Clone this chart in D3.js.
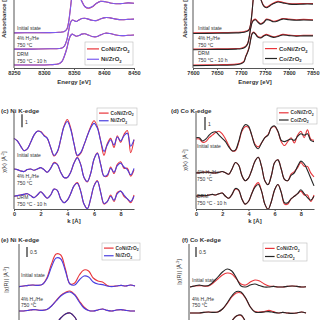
<!DOCTYPE html>
<html lang="en">
<head>
<meta charset="utf-8">
<title>Ni / Co K-edge XAS</title>
<script src="https://cdn.jsdelivr.net/npm/d3@7"></script>
<style>
  html, body { margin: 0; padding: 0; background: white; }
  text { font-family: "Liberation Sans", Arial, sans-serif; }
</style>
</head>
<body>
<script>
// ---------- data ----------
// (a) Ni K-edge XANES
var niEnergy = [8250, 8280, 8310, 8325, 8330, 8334, 8338, 8341, 8344, 8347, 8350, 8354, 8358, 8363, 8368, 8374, 8380, 8387, 8394, 8402, 8410, 8420, 8430, 8440, 8450];
var niInitCoNi = [0, 0.005, 0.01, 0.02, 0.03, 0.05, 0.12, 0.36, 0.82, 1.32, 1.58, 1.57, 1.32, 1.06, 0.88, 0.82, 0.86, 0.98, 1.05, 1.04, 1.0, 0.97, 0.98, 1.0, 0.99];
var niInitNi   = [0, 0.005, 0.01, 0.02, 0.03, 0.05, 0.12, 0.35, 0.80, 1.30, 1.55, 1.55, 1.30, 1.05, 0.88, 0.83, 0.87, 0.98, 1.05, 1.04, 1.0, 0.97, 0.98, 1.0, 0.99];
var niRedCoNi  = [0, 0, 0.01, 0.02, 0.04, 0.10, 0.30, 0.60, 0.88, 0.97, 0.95, 0.92, 0.97, 1.02, 1.03, 1.0, 0.96, 0.95, 1.0, 1.05, 1.04, 1.0, 0.98, 0.99, 1.0];
var niRedNi    = [0, 0, 0.01, 0.02, 0.04, 0.10, 0.30, 0.60, 0.88, 0.97, 0.95, 0.92, 0.97, 1.02, 1.03, 1.0, 0.96, 0.95, 1.0, 1.05, 1.04, 1.0, 0.98, 0.99, 1.0];
var niDrmCoNi  = [0, 0, 0.01, 0.04, 0.12, 0.30, 0.55, 0.80, 0.97, 1.03, 1.0, 0.96, 0.98, 1.03, 1.04, 1.0, 0.95, 0.94, 1.0, 1.06, 1.05, 1.0, 0.98, 0.99, 1.0];
var niDrmNi    = [0, 0, 0.01, 0.04, 0.12, 0.30, 0.55, 0.80, 0.97, 1.03, 1.0, 0.96, 0.98, 1.03, 1.04, 1.0, 0.95, 0.94, 1.0, 1.06, 1.05, 1.0, 0.98, 0.99, 1.0];

// (b) Co K-edge XANES
var coEnergy = [7600, 7650, 7690, 7700, 7706, 7710, 7714, 7717, 7720, 7723, 7726, 7730, 7735, 7741, 7747, 7753, 7760, 7768, 7777, 7787, 7800, 7815, 7830, 7850];
var coInitCoNi = [0, 0.01, 0.02, 0.03, 0.04, 0.06, 0.08, 0.12, 0.30, 0.70, 1.20, 1.50, 1.45, 1.15, 0.92, 0.86, 0.92, 1.0, 1.05, 1.02, 0.98, 0.97, 0.98, 0.98];
var coInitCo   = [0, 0.01, 0.02, 0.03, 0.04, 0.06, 0.08, 0.12, 0.30, 0.70, 1.20, 1.50, 1.45, 1.15, 0.92, 0.86, 0.92, 1.0, 1.05, 1.02, 0.98, 0.97, 0.98, 0.98];
var coRedCoNi  = [0, 0.01, 0.02, 0.03, 0.06, 0.10, 0.20, 0.40, 0.70, 0.90, 0.97, 1.0, 0.92, 0.85, 0.90, 1.0, 0.98, 0.93, 0.96, 1.02, 1.0, 0.98, 0.99, 0.98];
var coRedCo    = [0, 0.01, 0.02, 0.03, 0.06, 0.10, 0.20, 0.40, 0.70, 0.90, 0.97, 1.0, 0.92, 0.85, 0.90, 1.0, 0.98, 0.93, 0.96, 1.02, 1.0, 0.98, 0.99, 0.98];
var coDrmCoNi  = [0, 0.01, 0.03, 0.06, 0.12, 0.30, 0.45, 0.60, 0.85, 1.05, 1.10, 1.05, 0.95, 0.92, 0.98, 1.02, 0.98, 0.94, 0.97, 1.02, 1.0, 0.98, 0.99, 0.99];
var coDrmCo    = [0, 0.01, 0.03, 0.06, 0.12, 0.30, 0.45, 0.60, 0.85, 1.05, 1.10, 1.05, 0.95, 0.92, 0.98, 1.02, 0.98, 0.94, 0.97, 1.02, 1.0, 0.98, 0.99, 0.99];

// (c), (d) EXAFS chi(k)
var kGrid = [0, 0.25, 0.5, 0.75, 1, 1.25, 1.5, 1.75, 2, 2.25, 2.5, 2.75, 3, 3.25, 3.5, 3.75, 4, 4.25, 4.5, 4.75, 5, 5.25, 5.5, 5.75, 6, 6.25, 6.5, 6.75, 7, 7.25, 7.5, 7.75, 8, 8.25, 8.5, 8.75, 9];
var kTicks = [0, 2, 4, 6, 8];

var niChiInitCoNi = [0.2, 0.0, -0.4, -0.75, -0.6, -0.1, 0.45, 0.75, 0.72, 0.45, 0.2, -0.5, -1.15, -0.85, 0.1, 1.15, 1.65, 1.0, -0.2, -1.15, -0.95, -0.3, 0.4, 1.1, 1.55, 1.1, 0.0, -1.1, -0.2, 0.2, -0.5, 0.4, -0.1, 0.5, 0.8, -0.9, 0.1];
var niChiInitNi   = [0.2, 0.0, -0.4, -0.75, -0.6, -0.1, 0.45, 0.75, 0.70, 0.40, 0.2, -0.5, -1.1, -0.8, 0.1, 1.1, 1.50, 0.9, -0.2, -1.1, -0.9, -0.3, 0.4, 1.0, 1.35, 1.0, 0.0, -0.8, -0.3, 0.1, -0.3, 0.3, 0.0, 0.4, 0.6, -0.4, 0.1];
var niChiRedCoNi  = [0.15, 0.1, 0.0, -0.05, 0.1, 0.15, 0.05, 0.15, 0.25, 0.1, -0.1, 0.2, 0.65, 0.5, -0.1, -0.5, -0.5, -0.1, 0.6, 1.05, 0.5, -0.5, -0.85, -0.2, 0.9, 1.4, 0.5, -0.4, -0.4, 0.3, -0.2, 0.5, 0.7, 0.2, 0.2, -0.4, 0.1];
var niChiRedNi    = [0.15, 0.1, 0.0, -0.05, 0.1, 0.15, 0.05, 0.15, 0.25, 0.1, -0.1, 0.2, 0.60, 0.5, -0.1, -0.5, -0.5, -0.1, 0.6, 1.00, 0.5, -0.5, -0.80, -0.2, 0.9, 1.35, 0.5, -0.4, -0.3, 0.2, -0.1, 0.4, 0.6, 0.3, 0.1, -0.3, 0.2];
var niChiDrmCoNi  = [0.0, 0.05, 0.1, 0.15, 0.2, 0.05, -0.1, 0.1, 0.35, 0.1, -0.15, 0.1, 0.55, 0.45, -0.2, -0.5, -0.3, 0.2, 0.8, 1.05, 0.4, -0.6, -0.95, -0.2, 0.8, 1.2, 0.3, -0.6, -0.4, 0.1, -0.4, 0.3, 0.4, 0.0, -0.2, -0.5, 0.1];
var niChiDrmNi    = [0.0, 0.05, 0.1, 0.15, 0.2, 0.05, -0.1, 0.1, 0.35, 0.1, -0.15, 0.1, 0.55, 0.45, -0.2, -0.5, -0.3, 0.2, 0.8, 1.00, 0.4, -0.6, -0.95, -0.2, 0.8, 1.15, 0.3, -0.55, -0.4, 0.0, -0.3, 0.2, 0.4, 0.1, -0.2, -0.4, 0.0];

var coChiInitCoNi = [0.0, 0.0, -0.25, -0.2, 0.1, 0.3, 0.5, 0.6, 0.4, 0.0, -0.5, -0.9, -0.9, -0.3, 0.6, 0.95, 0.9, 0.3, -0.4, -0.6, -0.3, 0.1, 0.35, 0.85, 0.95, 0.55, -0.2, -0.5, -0.2, 0.1, -0.3, 0.3, 0.6, 0.1, 0.7, 0.0, -0.1];
var coChiInitCo   = [0.1, 0.1, -0.15, 0.0, 0.3, 0.5, 0.55, 0.3, 0.05, -0.2, -0.6, -0.9, -0.85, -0.2, 0.7, 1.1, 1.0, 0.3, -0.5, -0.75, -0.3, 0.1, 0.3, 0.9, 1.0, 0.6, -0.1, -0.2, -0.1, 0.0, -0.1, 0.2, 0.4, 0.3, 0.4, -0.1, -0.2];
var coChiRedCoNi  = [0.0, 0.0, 0.05, 0.05, 0.05, 0.0, 0.0, 0.05, 0.1, 0.0, -0.1, 0.3, 0.8, 0.6, -0.2, -0.6, -0.4, 0.2, 0.9, 1.2, 0.5, -0.6, -0.9, -0.2, 0.8, 1.0, 0.3, -0.5, -0.6, -0.1, 0.1, 0.4, 0.8, 0.5, 0.5, 0.0, -0.3];
var coChiRedCo    = [0.0, 0.0, 0.05, 0.05, 0.05, 0.0, 0.0, 0.05, 0.1, 0.0, -0.1, 0.3, 0.8, 0.6, -0.2, -0.6, -0.4, 0.2, 0.9, 1.2, 0.5, -0.6, -0.9, -0.2, 0.8, 1.0, 0.3, -0.5, -0.6, -0.2, 0.0, 0.5, 0.9, 0.7, 0.2, -0.4, -1.0];
var coChiDrmCoNi  = [0.0, 0.05, 0.05, 0.05, 0.1, 0.15, 0.1, 0.2, 0.25, 0.0, -0.15, 0.15, 0.55, 0.45, -0.2, -0.6, -0.4, 0.2, 0.8, 1.05, 0.4, -0.6, -1.0, -0.4, 0.5, 0.9, 0.3, -0.6, -0.6, -0.2, 0.0, 0.2, 0.4, 0.1, 0.1, -0.4, 0.1];
var coChiDrmCo    = [0.0, 0.05, 0.05, 0.05, 0.1, 0.15, 0.1, 0.2, 0.25, 0.0, -0.15, 0.15, 0.60, 0.50, -0.2, -0.6, -0.4, 0.2, 0.7, 0.90, 0.4, -0.6, -1.0, -0.4, 0.5, 0.9, 0.3, -0.5, -0.5, -0.2, 0.0, 0.2, 0.5, 0.2, -0.1, -0.3, 0.0];

// (e), (f) Fourier transforms |chi(R)|
var rGrid = [0, 0.2, 0.4, 0.6, 0.8, 1.0, 1.2, 1.4, 1.6, 1.8, 2.0, 2.2, 2.4, 2.6, 2.8, 3.0, 3.2, 3.4, 3.6, 3.8, 4.0, 4.2, 4.4, 4.6, 4.8, 5.0];
var niFtInitCoNi = [0.02, 0.05, 0.08, 0.1, 0.08, 0.12, 0.45, 1.15, 1.65, 1.6, 0.9, 0.15, 0.2, 0.6, 0.85, 0.8, 0.45, 0.3, 0.25, 0.08, 0.03, 0.05, 0.08, 0.05, 0.1, 0.05];
var niFtInitNi   = [0.02, 0.05, 0.08, 0.1, 0.08, 0.12, 0.40, 1.00, 1.45, 1.4, 0.8, 0.15, 0.1, 0.35, 0.55, 0.5, 0.25, 0.15, 0.12, 0.05, 0.02, 0.05, 0.08, 0.05, 0.1, 0.05];
var niFtRedCoNi  = [0.05, 0.05, 0.08, 0.12, 0.1, 0.08, 0.12, 0.3, 0.57, 0.83, 0.98, 1.05, 0.88, 0.55, 0.25, 0.08, 0.05, 0.1, 0.15, 0.08, 0.05, 0.1, 0.12, 0.08, 0.05, 0.05];
var niFtRedNi    = [0.05, 0.05, 0.08, 0.12, 0.1, 0.08, 0.12, 0.3, 0.55, 0.80, 0.95, 1.00, 0.85, 0.50, 0.20, 0.08, 0.05, 0.1, 0.15, 0.08, 0.05, 0.1, 0.12, 0.08, 0.05, 0.05];
var niFtDrmCoNi  = [0.05, 0.05, 0.08, 0.12, 0.1, 0.1, 0.2, 0.4, 0.7, 1.0, 1.2, 1.25, 1.05, 0.6, 0.25, 0.1, 0.05, 0.1, 0.15, 0.08, 0.05, 0.1, 0.12, 0.08, 0.05, 0.05];
var niFtDrmNi    = [0.05, 0.05, 0.08, 0.12, 0.1, 0.1, 0.2, 0.4, 0.7, 1.0, 1.2, 1.25, 1.05, 0.6, 0.25, 0.1, 0.05, 0.1, 0.15, 0.08, 0.05, 0.1, 0.12, 0.08, 0.05, 0.05];

var coFtInitCoNi = [0.05, 0.1, 0.12, 0.1, 0.1, 0.25, 0.45, 0.65, 0.75, 0.7, 0.45, 0.2, 0.15, 0.3, 0.4, 0.35, 0.2, 0.1, 0.08, 0.05, 0.05, 0.08, 0.1, 0.08, 0.05, 0.06];
var coFtInitCo   = [0.05, 0.1, 0.15, 0.1, 0.12, 0.3, 0.55, 0.8, 0.95, 0.85, 0.5, 0.1, 0.05, 0.15, 0.2, 0.12, 0.05, 0.05, 0.08, 0.05, 0.05, 0.08, 0.1, 0.08, 0.05, 0.06];
var coFtRedCoNi  = [0.05, 0.05, 0.05, 0.08, 0.1, 0.08, 0.1, 0.25, 0.52, 0.85, 1.05, 1.05, 0.78, 0.35, 0.12, 0.1, 0.12, 0.18, 0.12, 0.05, 0.08, 0.05, 0.03, 0.05, 0.1, 0.05];
var coFtRedCo    = [0.05, 0.05, 0.05, 0.08, 0.1, 0.08, 0.1, 0.25, 0.55, 0.90, 1.12, 1.10, 0.80, 0.35, 0.10, 0.08, 0.1, 0.12, 0.08, 0.05, 0.08, 0.05, 0.03, 0.05, 0.1, 0.05];
var coFtDrmCoNi  = [0.05, 0.05, 0.05, 0.08, 0.1, 0.08, 0.1, 0.3, 0.6, 0.95, 1.2, 1.22, 0.9, 0.4, 0.12, 0.1, 0.1, 0.12, 0.08, 0.05, 0.08, 0.05, 0.03, 0.05, 0.1, 0.05];
var coFtDrmCo    = [0.05, 0.05, 0.05, 0.08, 0.1, 0.08, 0.1, 0.3, 0.6, 0.95, 1.2, 1.25, 0.9, 0.4, 0.12, 0.1, 0.1, 0.12, 0.08, 0.05, 0.08, 0.05, 0.03, 0.05, 0.1, 0.05];

var stateLabels = ["Initial state", "4% H\u2082/He", "750 \u00b0C", "DRM", "750 \u00b0C - 10 h"];

// ---------- drawing ----------
var w = 320, h = 320;
var red = "#e8343a", blue = "#4a3fe0", violet = "#7b5cf0", black = "#262626";
var axisCol = "#555", textCol = "#333";

var svg = d3.select("body").append("svg")
    .attr("width", w)
    .attr("height", h);

function addCurve(xs, ys, xScale, yScale, offset, color, width) {
    var line = d3.line()
        .x(function(d, i) { return xScale(xs[i]); })
        .y(function(d) { return yScale(d + offset); })
        .curve(d3.curveCatmullRom.alpha(0.5));
    svg.append("path")
        .datum(ys)
        .attr("d", line)
        .attr("fill", "none")
        .attr("stroke", color)
        .attr("stroke-width", width || 1.1)
        .attr("stroke-linejoin", "round");
}

function bottomAxis(xScale, y, ticks, fmt) {
    var g = svg.append("g")
        .attr("transform", "translate(0," + y + ")")
        .call(d3.axisBottom(xScale).tickValues(ticks).tickSize(2).tickSizeOuter(0).tickPadding(1.5).tickFormat(fmt));
    g.select(".domain").attr("stroke", axisCol);
    g.selectAll(".tick line").attr("stroke", axisCol);
    g.selectAll("text").attr("font-size", "5.6px").attr("font-weight", "bold").attr("fill", textCol)
        .style("font-family", "'Liberation Sans', Arial, sans-serif");
    return g;
}

function vAxis(x, y0, y1) {
    svg.append("line").attr("x1", x).attr("x2", x).attr("y1", y0).attr("y2", y1)
        .attr("stroke", axisCol).attr("stroke-width", 1);
}

function label(x, y, str, size, weight, anchor) {
    return svg.append("text").attr("x", x).attr("y", y).text(str)
        .attr("font-size", size + "px")
        .attr("font-weight", weight || "normal")
        .attr("text-anchor", anchor || "start")
        .attr("fill", textCol);
}

function subLabel(x, y, main, sub, size, weight) {
    var t = label(x, y, "", size, weight);
    t.append("tspan").text(main);
    t.append("tspan").text("2").attr("font-size", (size * 0.7) + "px").attr("dy", size * 0.3);
    return t;
}

function yLabel(x, y, str, size, anchor) {
    svg.append("text")
        .attr("transform", "translate(" + x + "," + y + ") rotate(-90)")
        .attr("text-anchor", anchor || "middle")
        .attr("font-size", size + "px")
        .attr("font-weight", "bold")
        .attr("fill", textCol)
        .text(str);
}

function chiLabel(x, y, str) {
    // chi(k) [A^-2] style label, rotated
    var t = svg.append("text")
        .attr("transform", "translate(" + x + "," + y + ") rotate(-90)")
        .attr("text-anchor", "middle")
        .attr("font-size", "5.6px")
        .attr("fill", textCol);
    t.append("tspan").text(str[0]);
    t.append("tspan").text(str[1]).attr("font-size", "3.8px").attr("dy", -2);
    t.append("tspan").text("]").attr("dy", 2);
}

function legend(x, y, wd, ht, names, colors, size) {
    svg.append("rect").attr("x", x).attr("y", y).attr("width", wd).attr("height", ht)
        .attr("fill", "white").attr("stroke", "#bbb").attr("stroke-width", 0.6);
    names.forEach(function(n, i) {
        var ly = y + ht * (0.3 + 0.45 * i);
        svg.append("line").attr("x1", x + 2).attr("x2", x + 2 + size * 2)
            .attr("y1", ly).attr("y2", ly).attr("stroke", colors[i]).attr("stroke-width", 1.2);
        subLabel(x + 4 + size * 2, ly + size * 0.35, n, "2", size, "bold");
    });
}

function stateText(x, y1, y2, y3, y4, y5, size) {
    label(x, y1, stateLabels[0], size);
    var t = label(x, y2, "", size);
    t.append("tspan").text("4% H");
    t.append("tspan").text("2").attr("font-size", (size * 0.7) + "px").attr("dy", size * 0.3);
    t.append("tspan").text("/He").attr("dy", -size * 0.3);
    label(x, y3, stateLabels[2], size);
    if (y4 !== null) label(x, y4, stateLabels[3], size);
    if (y5 !== null) label(x, y5, stateLabels[4], size);
}

// ----- (a) Ni K-edge XANES -----
var xA = d3.scaleLinear().domain([8250, 8450]).range([14, 134]);
var yA = d3.scaleLinear().domain([0, 1]).range([65, 35]);
var xanesOff = [1.07, 0.53, 0];
stateText(17, 30, 39.5, 46.5, 56, 62.5, 5);
addCurve(niEnergy, niInitCoNi, xA, yA, xanesOff[0], red);
addCurve(niEnergy, niInitNi, xA, yA, xanesOff[0], violet);
addCurve(niEnergy, niRedCoNi, xA, yA, xanesOff[1], red);
addCurve(niEnergy, niRedNi, xA, yA, xanesOff[1], violet);
addCurve(niEnergy, niDrmCoNi, xA, yA, xanesOff[2], red);
addCurve(niEnergy, niDrmNi, xA, yA, xanesOff[2], violet);
vAxis(14, 0, 68);
bottomAxis(xA, 68, [8250, 8300, 8350, 8400, 8450], d3.format("d"));
label(74, 84, "Energy [eV]", 6, "bold", "middle");
yLabel(6, 38, "Absorbance [a.u.]", 6, "start");
legend(85, 42, 48, 23, ["CoNi/ZrO", "Ni/ZrO"], [red, violet], 6);

// ----- (b) Co K-edge XANES -----
var xB = d3.scaleLinear().domain([7600, 7850]).range([193, 313]);
stateText(198, 30, 39.5, 46.5, 55, 62, 5);
addCurve(coEnergy, coInitCoNi, xB, yA, xanesOff[0], red);
addCurve(coEnergy, coInitCo, xB, yA, xanesOff[0] - 0.02, black);
addCurve(coEnergy, coRedCoNi, xB, yA, xanesOff[1], red);
addCurve(coEnergy, coRedCo, xB, yA, xanesOff[1] - 0.02, black);
addCurve(coEnergy, coDrmCoNi, xB, yA, xanesOff[2], red);
addCurve(coEnergy, coDrmCo, xB, yA, xanesOff[2] - 0.02, black);
vAxis(193, 0, 68);
var gB = bottomAxis(xB, 68, [7600, 7650, 7700, 7750, 7800, 7850], d3.format("d"));
gB.selectAll(".tick text").filter(function(d) { return d === 7850; }).attr("text-anchor", "end").attr("dx", 6);
label(255, 84, "Energy [eV]", 6, "bold", "middle");
yLabel(187, 38, "Absorbance [a.u.]", 6, "start");
legend(263, 42, 50, 22, ["CoNi/ZrO", "Co/ZrO"], [red, black], 6);

// ----- (c) Ni K-edge EXAFS -----
var xC = d3.scaleLinear().domain([0, 9]).range([14, 134]);
var yC = d3.scaleLinear().domain([0, 7.3]).range([208, 113]);
var chiOff = [5.15, 2.85, 0.9];
label(1, 113, "(c) Ni K-edge", 6.2, "bold");
stateText(17, 157, 178, 185, 199, 205.5, 5);
addCurve(kGrid, niChiInitCoNi, xC, yC, chiOff[0], red);
addCurve(kGrid, niChiInitNi, xC, yC, chiOff[0], blue);
addCurve(kGrid, niChiRedCoNi, xC, yC, chiOff[1], red);
addCurve(kGrid, niChiRedNi, xC, yC, chiOff[1], blue);
addCurve(kGrid, niChiDrmCoNi, xC, yC, chiOff[2], red);
addCurve(kGrid, niChiDrmNi, xC, yC, chiOff[2], blue);
vAxis(14, 112, 209);
bottomAxis(xC, 209, kTicks, d3.format("d"));
svg.append("line").attr("x1", 22).attr("x2", 22).attr("y1", yC(7.2)).attr("y2", yC(6.2))
    .attr("stroke", black).attr("stroke-width", 1.2);
label(25, 124, "1", 5);
chiLabel(6, 162, ["\u03c7(k) [\u00c5", "-2"]);
legend(97, 108, 40, 17, ["CoNi/ZrO", "Ni/ZrO"], [red, blue], 4.8);

// ----- (d) Co K-edge EXAFS -----
var xD = d3.scaleLinear().domain([0, 9]).range([196, 314]);
var chiOffD = [5.3, 2.7, 0.9];
label(171, 113, "(d) Co K-edge", 6.2, "bold");
stateText(197, 148, 174, 181, 198, 205, 5);
addCurve(kGrid, coChiInitCoNi, xD, yC, chiOffD[0], red);
addCurve(kGrid, coChiInitCo, xD, yC, chiOffD[0], black);
addCurve(kGrid, coChiRedCoNi, xD, yC, chiOffD[1], red);
addCurve(kGrid, coChiRedCo, xD, yC, chiOffD[1], black);
addCurve(kGrid, coChiDrmCoNi, xD, yC, chiOffD[2], red);
addCurve(kGrid, coChiDrmCo, xD, yC, chiOffD[2], black);
vAxis(196, 112, 209);
bottomAxis(xD, 209, kTicks, d3.format("d"));
svg.append("line").attr("x1", 205).attr("x2", 205).attr("y1", yC(7.0)).attr("y2", yC(6.0))
    .attr("stroke", black).attr("stroke-width", 1.2);
label(208, 126, "1", 5);
chiLabel(187, 160, ["\u03c7(k) [\u00c5", "-2"]);
legend(277, 108, 40, 16, ["CoNi/ZrO", "Co/ZrO"], [red, black], 4.8);

label(74, 223, "k [\u00c5]", 6, "bold", "middle");
label(255, 223, "k [\u00c5]", 6, "bold", "middle");

// ----- (e) Ni K-edge FT -----
var xE = d3.scaleLinear().domain([0, 5]).range([19, 135]);
var yE = d3.scaleLinear().domain([0, 1]).range([338, 318]);
var ftOff = [2.55, 1.3, 0];
label(1, 242, "(e) Ni K-edge", 6.2, "bold");
stateText(21, 277, 301, 307, null, null, 5);
addCurve(rGrid, niFtInitCoNi, xE, yE, ftOff[0], red);
addCurve(rGrid, niFtInitNi, xE, yE, ftOff[0], blue);
addCurve(rGrid, niFtRedCoNi, xE, yE, ftOff[1], red);
addCurve(rGrid, niFtRedNi, xE, yE, ftOff[1], blue);
addCurve(rGrid, niFtDrmCoNi, xE, yE, ftOff[2], red);
addCurve(rGrid, niFtDrmNi, xE, yE, ftOff[2], "#2a2a90");
vAxis(19, 244, 320);
svg.append("line").attr("x1", 27).attr("x2", 27).attr("y1", 247).attr("y2", 257)
    .attr("stroke", black).attr("stroke-width", 1.2);
label(30, 254, "0.5", 5);
chiLabel(8, 280, ["|\u03c7(R)| [\u00c5", "-3"]);
legend(102, 243, 38, 17, ["CoNi/ZrO", "Ni/ZrO"], [red, blue], 4.8);

// ----- (f) Co K-edge FT -----
var xF = d3.scaleLinear().domain([0, 5]).range([190, 306]);
label(182, 242, "(f) Co K-edge", 6.2, "bold");
stateText(192, 282, 301, 307, null, null, 5);
addCurve(rGrid, coFtInitCoNi, xF, yE, ftOff[0] - 0.05, red);
addCurve(rGrid, coFtInitCo, xF, yE, ftOff[0] - 0.05, black);
addCurve(rGrid, coFtRedCoNi, xF, yE, ftOff[1] - 0.1, red);
addCurve(rGrid, coFtRedCo, xF, yE, ftOff[1] - 0.1, black);
addCurve(rGrid, coFtDrmCoNi, xF, yE, ftOff[2] - 0.1, red);
addCurve(rGrid, coFtDrmCo, xF, yE, ftOff[2] - 0.1, black);
vAxis(189, 244, 320);
svg.append("line").attr("x1", 196).attr("x2", 196).attr("y1", 247).attr("y2", 257)
    .attr("stroke", black).attr("stroke-width", 1.2);
label(199, 254, "0.5", 5);
chiLabel(181, 272, ["|\u03c7(R)| [\u00c5", "-3"]);
legend(263, 243, 44, 18, ["CoNi/ZrO", "Co/ZrO"], [red, black], 4.8);
</script>
</body>
</html>
